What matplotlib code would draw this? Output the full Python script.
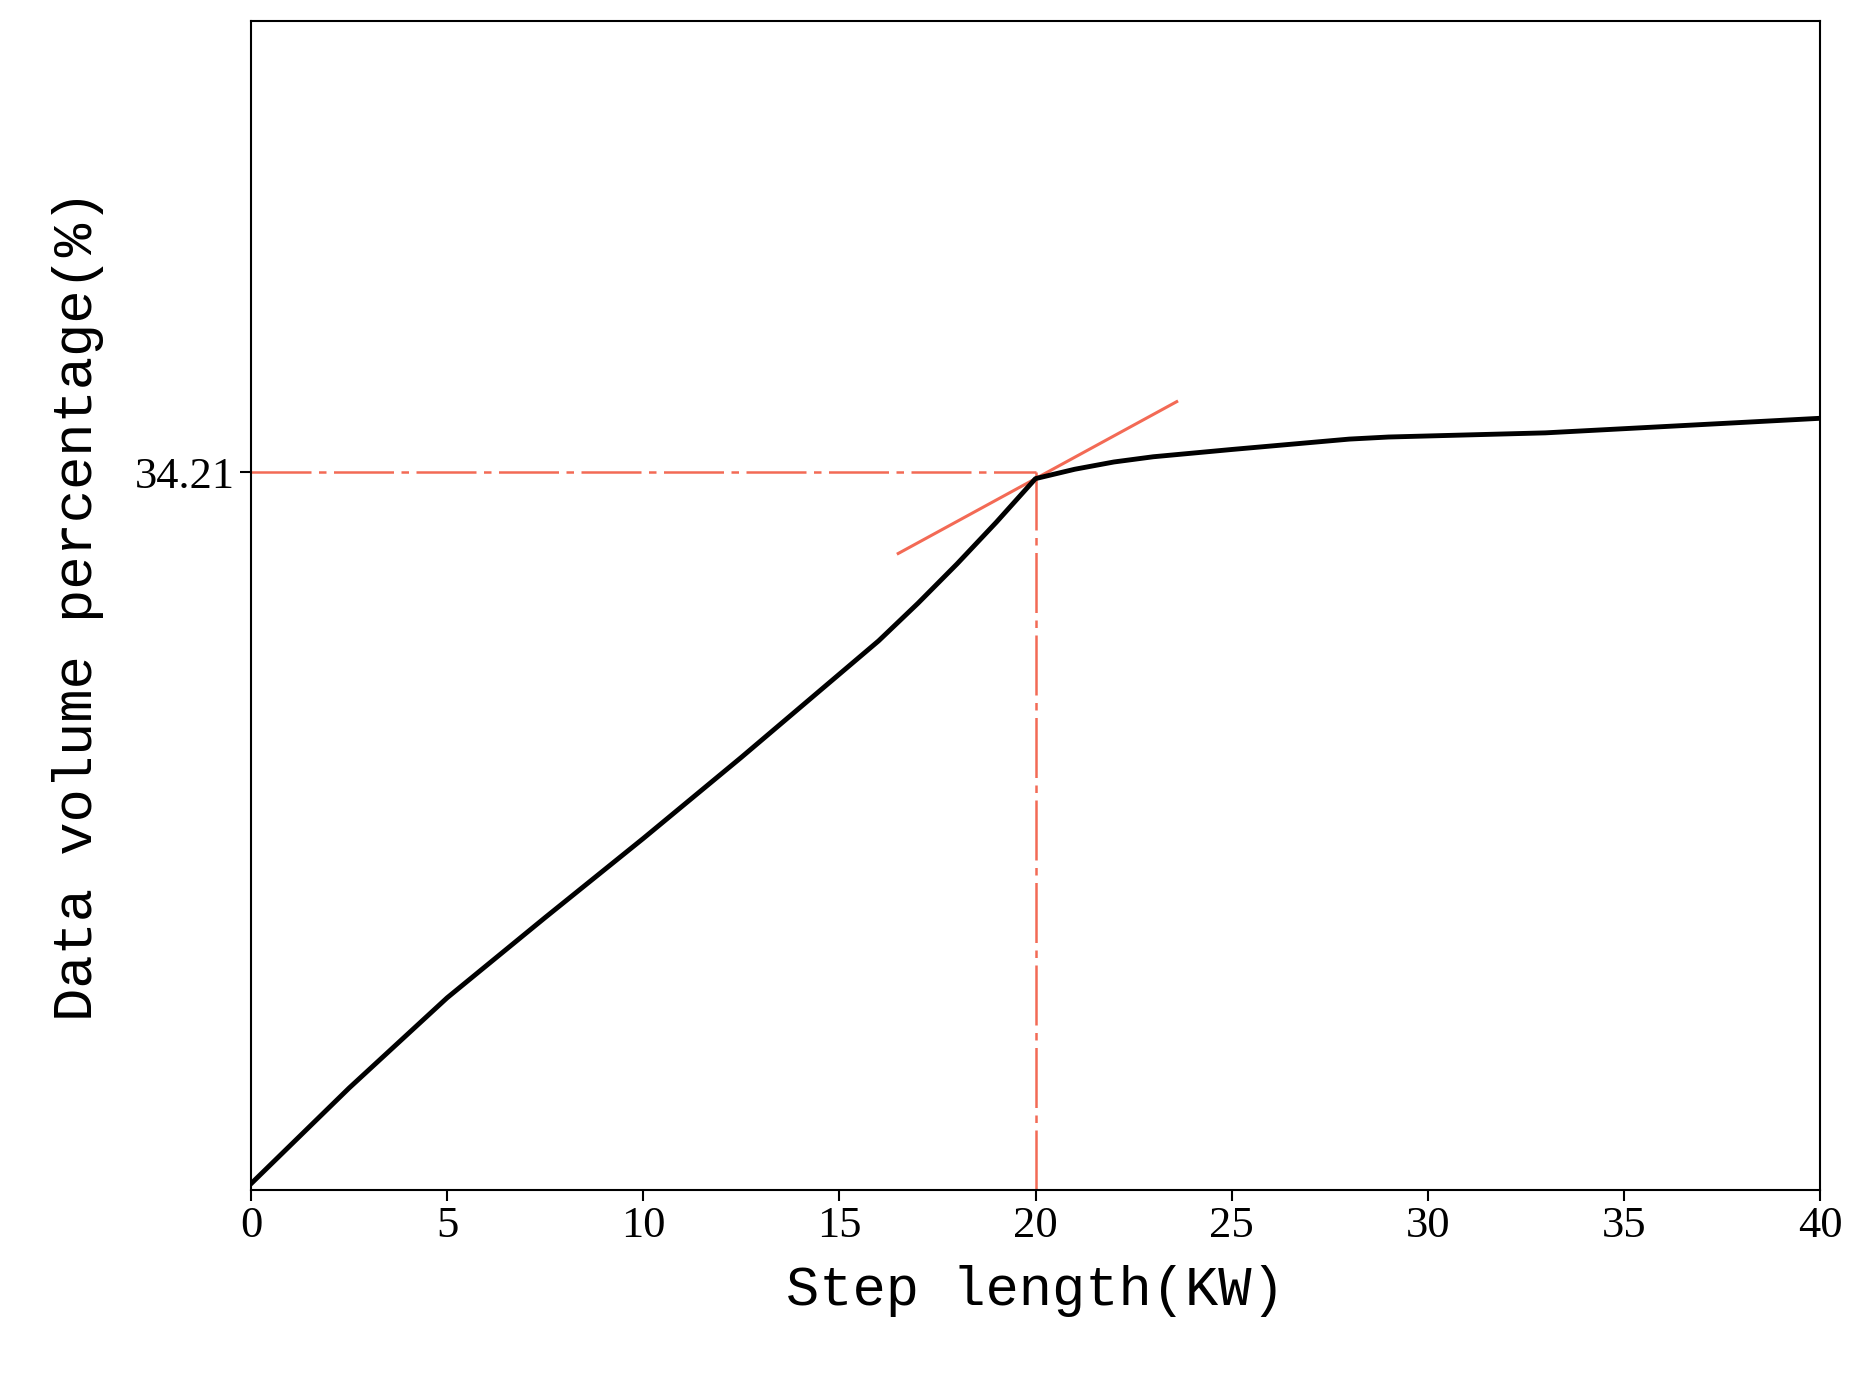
import matplotlib
matplotlib.use("Agg")
import matplotlib.pyplot as plt

x_vals = [0, 2.5, 5, 7.5, 10, 12.5, 15, 16, 17, 18, 19, 20, 21, 22, 23, 25, 28, 29, 33, 36, 40]
y_vals = [0, 4.6, 8.94, 12.8, 16.6, 20.5, 24.5, 26.1, 27.9, 29.8, 31.8, 33.9, 34.35, 34.7, 34.95, 35.3, 35.8, 35.9, 36.1, 36.4, 36.8]
knee_x = 20
knee_y = 34.21
tangent_x = [16.5, 23.6]
tangent_y = [30.3, 37.6]

fig = plt.figure(figsize=(18.57, 13.73), dpi=100)
ax = fig.add_axes([251/1857, 1-1190/1373, (1820-251)/1857, (1190-21)/1373])
ax.plot(x_vals, y_vals, color="black", lw=3.5, zorder=3)
ax.plot(tangent_x, tangent_y, color="#f36a55", lw=2.2, zorder=2)
ax.plot([0, knee_x], [knee_y, knee_y], color="#f36a55", lw=1.8, dashes=(24, 3, 3, 3))
ax.plot([knee_x, knee_x], [-0.3, knee_y], color="#f36a55", lw=1.8, dashes=(24, 3, 3, 3))
ax.set_xlim(0, 40)
ax.set_ylim(-0.3, 55.9)
ax.set_xticks(range(0, 41, 5))
ax.set_yticks([knee_y])
ax.set_yticklabels(["34.21"])
for t in ax.get_xticklabels() + ax.get_yticklabels():
    t.set_fontfamily("Liberation Serif")
    t.set_fontsize(32)
ax.tick_params(length=8, width=1.5, direction="out")
for s in ax.spines.values():
    s.set_linewidth(1.5)
ax.set_xlabel("Step length(KW)", fontfamily="Liberation Mono", fontsize=40, labelpad=14)
ax.set_ylabel("Data volume percentage(%)", fontfamily="Liberation Mono", fontsize=40, labelpad=22)
fig.savefig("out.png", dpi=100)
